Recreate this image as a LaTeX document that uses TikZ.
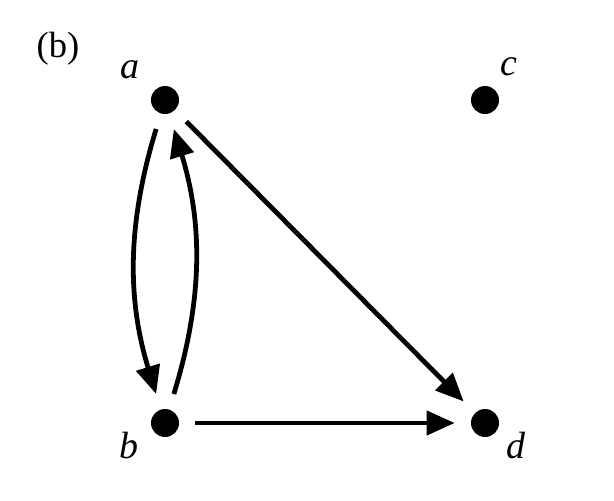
\documentclass[tikz,border=0pt]{standalone}
\usepackage{fontspec}
\setmainfont{Liberation Serif}
\usepackage{tikz}
\usetikzlibrary{arrows.meta,positioning}

\begin{document}
\begin{tikzpicture}[x=0.025cm, y=-0.025cm,
        vertex/.style={circle, fill=black, inner sep=0pt, minimum size=0.7cm},
        vlabel/.style={font=\fontsize{27}{30}\selectfont\itshape, inner sep=0pt},
        arc/.style={line width=3.4pt, -{Triangle[length=20pt, width=17pt]}, shorten <=0.4cm, shorten >=0.4cm}]
        \useasboundingbox (0,0) rectangle (614,501);
        % panel label
        \node[font=\fontsize{26}{30}\selectfont, inner sep=0pt] (tag) at (58,49) {(b)};

        % vertices
        \node[vertex] (a) at (165,100) {};
        \node[vertex] (c) at (485,100) {};
        \node[vertex] (b) at (165,423) {};
        \node[vertex] (d) at (485,423) {};

        % vertex names
        \node[vlabel] (la) at (130,70) {a};
        \node[vlabel] (lc) at (509,67) {c};
        \node[vlabel] (lb) at (129,446) {b};
        \node[vlabel] (ld) at (516,446) {d};

        % arcs
        \draw[arc] (a) to[bend right=17] (b);
        \draw[arc] (b) to[bend right=17] (a);
        \draw[arc] (a) -- (d);
        \draw[arc] (b) -- (d);
    \end{tikzpicture}
\end{document}
